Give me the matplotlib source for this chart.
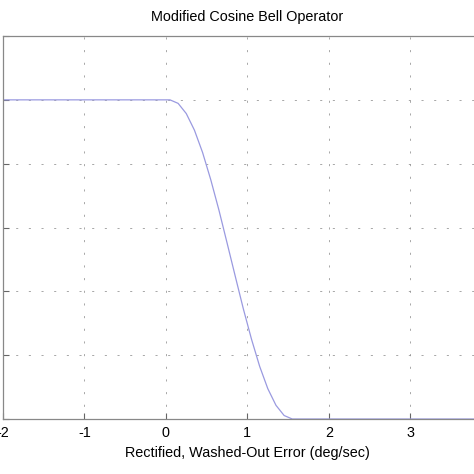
import matplotlib
matplotlib.use("Agg")
import matplotlib.pyplot as plt

plt.rcParams['font.family'] = ['Liberation Sans', 'DejaVu Sans']

# Curve points
x_vals = [-2.0, 0.05, 0.15, 0.25, 0.35, 0.45, 0.55, 0.65, 0.75, 0.85, 0.95,
          1.05, 1.15, 1.25, 1.35, 1.45, 1.55, 4.0]
y_vals = [1.0, 1.0, 0.989, 0.957, 0.905, 0.835, 0.75, 0.655, 0.552, 0.448, 0.345,
          0.25, 0.165, 0.095, 0.043, 0.011, 0.0, 0.0]
x_ticks = [-2, -1, 0, 1, 2, 3]
y_ticks = [0, 0.2, 0.4, 0.6, 0.8, 1.0, 1.2]
title = "Modified Cosine Bell Operator"
xlabel = "Rectified, Washed-Out Error (deg/sec)"

fig = plt.figure(figsize=(4.74, 4.74), dpi=100)
ax = fig.add_axes([0.006, 0.116, 1.032, 0.808])
ax.plot(x_vals, y_vals, color='#9a9ae0', linewidth=0.9)
ax.set_xlim(-2, 4)
ax.set_ylim(0, 1.2)
ax.set_xticks(x_ticks)
ax.set_yticks(y_ticks)
ax.set_xticklabels([str(t) for t in x_ticks])
ax.set_yticklabels([])
ax.grid(True, color='#999999', linestyle=(0, (2.5, 12.7)), linewidth=0.6)
ax.tick_params(direction='in', length=4, labelsize=10.4, color='#666666', pad=5)
for s in ax.spines.values():
    s.set_color('#888888')
    s.set_linewidth(0.9)
ax.set_title(title, fontsize=10.4, pad=11)
ax.set_xlabel(xlabel, fontsize=10.4, labelpad=4)
fig.savefig("out.png", dpi=100)
